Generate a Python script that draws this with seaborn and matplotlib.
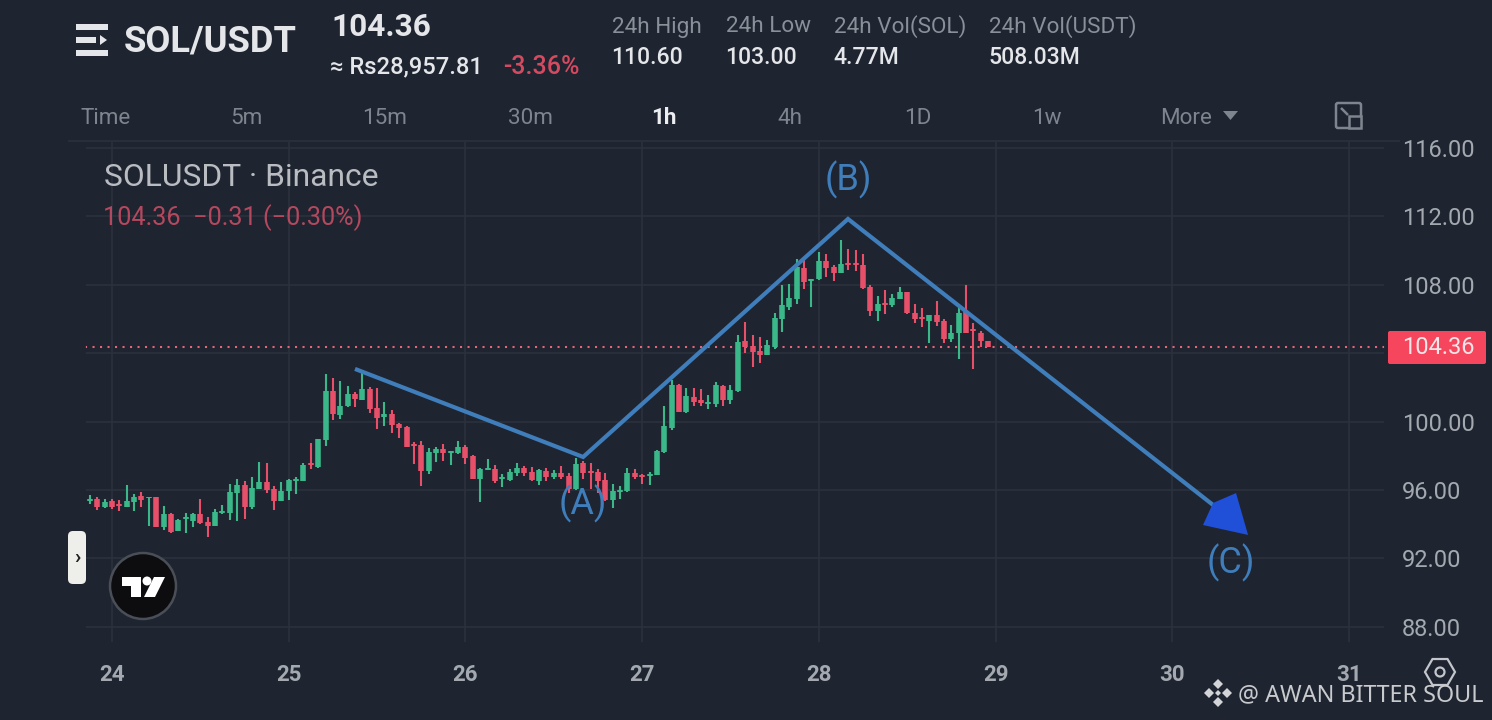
import numpy as np
import pandas as pd
import matplotlib
matplotlib.use('Agg')
import matplotlib.pyplot as plt
from matplotlib.patches import Circle, FancyBboxPatch, Polygon, Rectangle
import seaborn as sns

# hourly candles (price in USDT)
opens = [95.37, 95.45, 95.02, 95.33, 95.18, 95.02, 95.31, 95.64, 95.53, 95.60, 93.81, 94.59, 93.62, 94.28, 94.20,
         94.59, 94.12, 93.89, 94.63, 94.67, 95.84, 96.31, 94.98, 96.07, 96.47, 96.03, 95.37, 95.92, 96.50, 96.54,
         97.56, 97.36, 98.92, 101.77, 100.36, 100.91, 101.61, 101.26, 101.92, 100.79, 100.25, 100.45, 99.86, 99.71,
         98.69, 98.65, 97.09, 98.18, 98.42, 98.18, 98.15, 98.54, 98.01, 96.67, 97.19, 97.21, 96.67, 96.59, 96.98,
         97.29, 97.05, 96.55, 97.13, 96.78, 97.02, 96.82, 96.08, 97.56, 97.09, 97.05, 96.59, 95.42, 95.88, 95.92,
         97.02, 96.86, 96.82, 96.90, 98.22, 99.60, 102.12, 100.56, 101.45, 101.26, 101.02, 101.02, 102.08, 101.26,
         101.78, 104.69, 104.42, 104.10, 103.91, 104.38, 106.01, 106.72, 107.18, 108.98, 108.20, 108.31, 109.37,
         109.02, 108.70, 109.29, 109.25, 109.17, 107.89, 106.48, 106.95, 106.79, 107.18, 107.57, 106.37, 106.13,
         105.90, 106.25, 105.90, 104.81, 105.16, 106.40, 105.39, 105.20, 104.69]
highs = [95.71, 95.57, 95.45, 95.45, 95.41, 96.29, 95.76, 95.88, 95.60, 95.60, 95.06, 94.67, 94.32, 94.63, 94.67,
         95.49, 94.40, 94.87, 95.10, 96.35, 96.66, 96.50, 96.78, 97.64, 97.60, 96.23, 96.47, 96.62, 96.78, 97.60,
         98.76, 99.00, 102.78, 102.55, 102.39, 102.08, 101.73, 103.02, 102.04, 101.96, 101.15, 100.68, 99.94, 99.74,
         98.83, 98.89, 98.44, 98.54, 98.69, 98.30, 98.89, 98.65, 98.05, 97.27, 97.83, 97.46, 96.94, 97.25, 97.56,
         97.40, 97.33, 97.25, 97.29, 97.17, 97.40, 97.02, 97.85, 97.72, 97.56, 97.25, 96.98, 96.35, 96.24, 97.29,
         97.21, 96.94, 97.05, 98.34, 100.91, 102.43, 102.19, 101.94, 101.94, 101.88, 101.57, 102.31, 102.12, 102.12,
         105.04, 105.82, 105.04, 104.96, 104.77, 106.33, 107.96, 108.04, 109.52, 109.56, 108.35, 109.91, 109.80,
         109.17, 110.62, 110.07, 110.03, 109.80, 107.96, 107.34, 107.69, 107.46, 107.85, 107.57, 106.87, 106.64,
         106.25, 107.07, 106.01, 105.66, 106.68, 108.00, 105.74, 105.27, 104.69]
lows = [95.18, 94.83, 94.92, 94.86, 94.79, 94.98, 94.79, 94.98, 93.89, 93.81, 93.66, 93.50, 93.58, 93.50, 93.85,
        94.01, 93.27, 93.89, 94.59, 94.24, 94.20, 94.32, 94.90, 96.03, 95.84, 94.83, 95.37, 95.41, 95.76, 96.54,
        97.21, 97.28, 98.57, 100.09, 100.17, 100.87, 100.83, 101.26, 100.48, 99.54, 99.74, 99.32, 99.02, 98.54,
        97.52, 96.24, 96.94, 97.64, 97.72, 97.46, 98.11, 97.52, 96.63, 95.32, 97.17, 96.39, 96.16, 96.55, 96.82,
        96.82, 96.55, 96.28, 96.51, 96.67, 96.67, 95.81, 96.00, 96.67, 96.04, 95.85, 95.38, 94.95, 95.50, 95.88,
        96.63, 96.35, 96.28, 96.86, 98.15, 99.50, 100.54, 100.52, 100.91, 100.91, 100.75, 100.83, 100.91, 101.02,
        101.75, 103.99, 103.17, 103.40, 103.87, 104.22, 105.23, 106.52, 106.87, 107.73, 106.68, 108.28, 108.47,
        108.24, 108.70, 108.86, 108.82, 107.77, 106.17, 105.90, 106.29, 106.68, 107.18, 106.29, 105.78, 105.55,
        104.57, 105.59, 104.61, 104.65, 103.68, 105.16, 103.05, 104.34, 104.34]
closes = [95.49, 95.02, 95.29, 94.98, 95.06, 95.33, 95.60, 95.41, 95.60, 93.81, 94.59, 93.54, 94.24, 94.40, 94.59,
          94.05, 93.89, 94.71, 94.75, 95.88, 96.31, 95.02, 96.11, 96.47, 96.00, 95.37, 95.92, 96.58, 96.62, 97.44,
          97.44, 98.96, 101.77, 100.44, 100.91, 101.61, 101.30, 101.88, 100.71, 100.21, 100.45, 99.80, 99.61, 98.54,
          98.57, 97.11, 98.22, 98.42, 98.15, 98.26, 98.54, 97.87, 96.63, 97.21, 97.29, 96.55, 96.78, 97.05, 97.29,
          96.98, 96.59, 97.17, 96.74, 97.02, 96.74, 96.08, 97.52, 96.98, 96.98, 96.55, 95.42, 95.92, 96.00, 97.02,
          96.78, 96.74, 96.94, 98.30, 99.74, 102.12, 100.58, 101.51, 101.14, 101.10, 101.14, 102.12, 101.26, 101.84,
          104.65, 104.34, 104.07, 103.87, 104.46, 106.05, 106.79, 107.22, 109.06, 108.16, 108.35, 109.37, 108.98,
          108.70, 109.21, 109.17, 109.13, 107.81, 106.48, 106.87, 106.83, 107.22, 107.57, 106.33, 105.98, 105.98,
          106.25, 105.82, 104.81, 105.20, 106.33, 105.20, 105.27, 104.69, 104.36]

# drawn ABC wave: (start, A, B, arrow end)
wave_days = [25.375, 26.666, 28.165, 30.345]
wave_prices = [103.08, 97.93, 111.85, 94.20]
arrow_days = [30.429, 30.361, 30.231, 30.174]
arrow_prices = [93.37, 95.82, 95.24, 93.95]
wave_label_names = ['(A)', '(B)', '(C)']
wave_label_days = [26.666, 28.165, 30.332]
wave_label_prices = [95.20, 114.13, 91.75]

last_price = 104.36
day_ticks = [24, 25, 26, 27, 28, 29, 30, 31]
price_ticks = [88, 92, 96, 100, 104, 108, 112, 116]
tab_names = ['Time', '5m', '15m', '30m', '1h', '4h', '1D', '1w', 'More']

BG = '#1e2430'
GREEN = '#3bb88a'
RED = '#e8506a'
BLUE = '#3f7dbb'
GRAY = '#7f858e'
LIGHT = '#e4e6e9'

sns.set_theme(style='darkgrid', rc={
    'figure.facecolor': BG, 'axes.facecolor': BG, 'axes.edgecolor': BG,
    'grid.color': '#2b323d', 'grid.linewidth': 1.2,
    'lines.solid_capstyle': 'butt',
})
plt.rcParams['font.family'] = ['Roboto', 'DejaVu Sans']

W, H = 1492, 720
fig = plt.figure(figsize=(W / 100, H / 100), dpi=100)
ax = fig.add_axes([85 / W, 1 - 643 / H, 1300 / W, 502 / H])

# candles as two long tables, wicks (thin) and bodies (thick)
times = 23.875 + np.arange(len(opens)) / 24
candles = pd.DataFrame({'t': times, 'open': opens, 'high': highs, 'low': lows, 'close': closes})
candles['side'] = np.where(candles['close'] >= candles['open'], 'up', 'down')
candles['id'] = candles.index
wicks = candles.melt(id_vars=['id', 't', 'side'], value_vars=['high', 'low'], value_name='price')
bodies = candles.melt(id_vars=['id', 't', 'side'], value_vars=['open', 'close'], value_name='price')
colors = {'up': GREEN, 'down': RED}

ax.axhline(last_price, color='#e8647a', lw=1.5, ls=(0, (1, 2.6)), zorder=1.5)
sns.lineplot(data=wicks, x='t', y='price', hue='side', units='id', estimator=None, palette=colors,
             linewidth=1.5, legend=False, ax=ax, zorder=3)
sns.lineplot(data=bodies, x='t', y='price', hue='side', units='id', estimator=None, palette=colors,
             linewidth=4.0, legend=False, ax=ax, zorder=3)

# wave drawing
sns.lineplot(x=wave_days, y=wave_prices, sort=False, estimator=None, color=BLUE, linewidth=3.0,
             legend=False, ax=ax, zorder=4, solid_joinstyle='miter')
ax.fill(arrow_days, arrow_prices, color='#2050d8', lw=0, zorder=5)
for name, d, p in zip(wave_label_names, wave_label_days, wave_label_prices):
    ax.text(d, p, name, color=BLUE, fontsize=26, ha='center', va='center', zorder=6)

ax.set_xlim(23.847, 31.204)
ax.set_ylim(87.05, 116.41)
ax.set_xticks(day_ticks)
ax.set_yticks(price_ticks)
# the 104 label sits behind the last price tag in the app
ax.set_yticklabels(['' if p == 104 else f'{p:.2f}' for p in price_ticks])
ax.yaxis.tick_right()
ax.set_xlabel('')
ax.set_ylabel('')
ax.tick_params(axis='y', length=0, pad=12, labelsize=17, labelcolor='#a4a9b0')
ax.tick_params(axis='x', length=0, pad=15, labelsize=16, labelcolor='#a4a9b0')
for lab in ax.get_xticklabels():
    lab.set_fontweight('bold')

# app chrome in pixel coordinates on a see-through overlay
ov = fig.add_axes([0, 0, 1, 1], zorder=10)
ov.set_xlim(0, W)
ov.set_ylim(H, 0)
ov.axis('off')
ov.patch.set_alpha(0)


def label(x, y, s, size=15, color=LIGHT, weight='normal', ha='left', family=None):
    ov.text(x, y, s, fontsize=size, color=color, fontweight=weight, ha=ha, va='center', family=family)


# header
ov.add_patch(Rectangle((76, 24), 32, 6, color=LIGHT, lw=0))
ov.add_patch(Rectangle((76, 37), 20, 6, color=LIGHT, lw=0))
ov.add_patch(Rectangle((76, 50), 32, 6, color=LIGHT, lw=0))
ov.add_patch(Polygon([(100, 35), (107, 40), (100, 45)], color=LIGHT, lw=0))
label(124, 42, 'SOL/USDT', size=26.2, weight='bold')
label(331, 27, '104.36', size=22.8, weight='bold')
label(330, 67, '≈ Rs28,957.81', size=17.1, weight='medium')
label(503, 67, '-3.36%', size=18, color='#d44a60', weight='medium')
for x, top, val in [(612, '24h High', '110.60'), (726, '24h Low', '103.00'),
                    (834, '24h Vol(SOL)', '4.77M'), (989, '24h Vol(USDT)', '508.03M')]:
    label(x, 27, top, size=16.2, color='#8a9099')
    label(x - 1, 58, val, size=16.6, weight='medium')

# timeframe tabs
for x, name in zip([106, 246, 385, 530, 664, 790, 918, 1047, 1186], tab_names):
    active = name == '1h'
    label(x, 118, name, size=16.2, color='#eceef0' if active else GRAY,
          weight='bold' if active else 'normal', ha='center')
ov.add_patch(Polygon([(1223, 111), (1238, 111), (1230.5, 120)], color=GRAY, lw=0))
ov.plot([68, 1400], [141, 141], color='#2b323d', lw=1.2)

# expand icon
ov.add_patch(FancyBboxPatch((1336, 103), 25, 25, boxstyle='round,pad=0,rounding_size=2',
                            fill=False, ec=GRAY, lw=1.8))
ov.add_patch(Rectangle((1349, 116), 12, 12, fc=BG, ec=GRAY, lw=1.8))
ov.plot([1341, 1348], [108, 115], color=GRAY, lw=1.8)

# legend text on the chart
label(104, 177, 'SOLUSDT · Binance', size=22.9, color='#b9bdc2')
label(103, 218, '104.36  −0.31 (−0.30%)', size=18.2, color='#b4485e')

# last price tag
ov.add_patch(FancyBboxPatch((1388, 331), 98, 33, boxstyle='round,pad=0,rounding_size=2', fc='#f6465d', lw=0))
label(1438, 348, '104.36', size=17, color='#f1e6e8', ha='center')

# side handle
ov.add_patch(FancyBboxPatch((68, 531), 18, 53, boxstyle='round,pad=0,rounding_size=5', fc='#eeeeea', lw=0))
label(77, 557, '›', size=15, color='#222222', ha='center', weight='bold')

# tradingview badge
ov.add_patch(Circle((143, 586), 33, fc='#0d0d0f', ec='#4a4f57', lw=1.8))
ov.add_patch(Polygon([(122, 577), (141, 577), (141, 597), (131, 597), (131, 586), (122, 586)], color='white', lw=0))
ov.add_patch(Circle((147, 581), 4.5, color='white', lw=0))
ov.add_patch(Polygon([(154, 577), (165, 577), (155, 597), (144, 597)], color='white', lw=0))

# settings hexagon
ang = np.deg2rad(np.arange(0, 360, 60))
ov.add_patch(Polygon(np.c_[1440 + 15 * np.cos(ang), 672 + 15 * np.sin(ang)], fill=False, ec='#c3c6ca', lw=1.6))
ov.add_patch(Circle((1440, 672), 4.5, fill=False, ec='#c3c6ca', lw=1.6))

# watermark
for dx, dy, r in [(0, -9, 5), (0, 9, 5), (-9, 0, 5), (9, 0, 5)]:
    cx, cy = 1218 + dx, 693 + dy
    ov.add_patch(Polygon([(cx, cy - r), (cx + r, cy), (cx, cy + r), (cx - r, cy)], color='#d2d4d7', lw=0))
ov.add_patch(Polygon([(1218, 690), (1221, 693), (1218, 696), (1215, 693)], color='#d2d4d7', lw=0))
label(1238, 695, '@ AWAN BITTER SOUL', size=16.8, color='#c8cacd', family='Noto Sans')

fig.savefig('out.png', dpi=100, facecolor=BG)
